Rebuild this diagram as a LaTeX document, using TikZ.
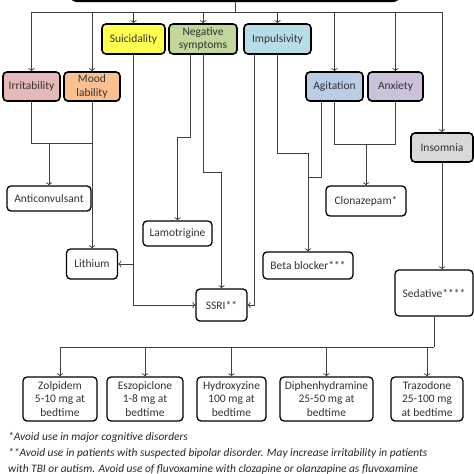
\documentclass[tikz,border=0pt]{standalone}
\usepackage{fontspec}
\setmainfont{Carlito}
\usepackage{tikz}
\usetikzlibrary{arrows.meta}
\usepackage{xcolor}
\definecolor{suicol}{HTML}{FFFF4F}
\definecolor{negcol}{HTML}{C3D69B}
\definecolor{impcol}{HTML}{B7DEE8}
\definecolor{irrcol}{HTML}{E6B9B8}
\definecolor{moodcol}{HTML}{FAC090}
\definecolor{agicol}{HTML}{B9CDE5}
\definecolor{anxcol}{HTML}{CCC1DA}
\definecolor{inscol}{HTML}{D9D9D9}
\tikzstyle{symbox} = [draw=black, line width=1.6pt, rectangle, rounded corners=4pt,
    inner sep=1pt, align=center, text=black!80, font=\fontsize{11.5}{13.3}\selectfont]
\tikzstyle{drugbox} = [draw=black, fill=white, line width=1.3pt, rectangle, rounded corners=4pt,
    inner sep=1pt, align=center, text=black!80, font=\fontsize{11.5}{13.3}\selectfont]
\tikzstyle{link} = [draw=black!75, line width=0.8pt, >={To[length=3pt,width=6.5pt]}]

\begin{document}
\begin{tikzpicture}[x=1pt,y=-1pt]
\useasboundingbox (0,0) rectangle (474,474);
\clip (0,0) rectangle (474,474);
\node[symbox, fill=white, line width=2pt, minimum width=326pt, minimum height=40pt] (top) at (235,-19) {};
\node[symbox, fill=suicol, minimum width=63pt, minimum height=30pt] (sui) at (133.5,39) {Suicidality};
\node[symbox, fill=negcol, minimum width=68pt, minimum height=30pt] (neg) at (203,39) {Negative\\symptoms};
\node[symbox, fill=impcol, minimum width=67pt, minimum height=30pt] (imp) at (277.5,39) {Impulsivity};
\node[symbox, fill=irrcol, minimum width=57pt, minimum height=29pt] (irr) at (31.5,86.5) {Irritability};
\node[symbox, fill=moodcol, minimum width=56pt, minimum height=29pt] (mood) at (92,86.5) {Mood\\lability};
\node[symbox, fill=agicol, minimum width=57pt, minimum height=29pt] (agi) at (334.5,86.5) {Agitation};
\node[symbox, fill=anxcol, minimum width=55pt, minimum height=29pt] (anx) at (395.5,86.5) {Anxiety};
\node[symbox, fill=inscol, minimum width=62pt, minimum height=29pt] (ins) at (442,147.5) {Insomnia};

\node[drugbox, minimum width=84pt, minimum height=25pt] (anti) at (49,198.5) {Anticonvulsant};
\node[drugbox, minimum width=69pt, minimum height=25pt] (lamo) at (177.5,233.5) {Lamotrigine};
\node[drugbox, minimum width=51pt, minimum height=30pt] (lith) at (92,264) {Lithium};
\node[drugbox, minimum width=51pt, minimum height=32pt] (ssri) at (221.5,305) {SSRI**};
\node[drugbox, minimum width=80pt, minimum height=30pt] (clon) at (366,201) {Clonazepam*};
\node[drugbox, minimum width=90pt, minimum height=27pt] (beta) at (308,265.5) {Beta blocker***};
\node[drugbox, minimum width=78pt, minimum height=46pt] (sed) at (434,293) {Sedative****};

\node[drugbox, minimum width=74pt, minimum height=44pt] (zol) at (60,399) {Zolpidem\\5-10 mg at\\bedtime};
\node[drugbox, minimum width=76pt, minimum height=44pt] (esz) at (145,399) {Eszopiclone\\1-8 mg at\\bedtime};
\node[drugbox, minimum width=69pt, minimum height=44pt] (hyd) at (231.5,399) {Hydroxyzine\\100 mg at\\bedtime};
\node[drugbox, minimum width=93pt, minimum height=44pt] (dip) at (326.5,399) {Diphenhydramine\\25-50 mg at\\bedtime};
\node[drugbox, minimum width=72pt, minimum height=44pt] (tra) at (427,399) {Trazodone\\25-100 mg\\at bedtime};

\coordinate (bus) at (235,12);
\coordinate (bus2) at (0,347);
\draw[link] (top.south) -- (bus);
\draw[link] (irr.north |- bus) -- (ins.north |- bus);
\foreach \n in {irr,mood,sui,neg,imp,agi,anx,ins}
    \draw[link,->] (\n.north |- bus) -- (\n.north);

\draw[link] (irr.south) |- (mood.south |- 0,143);
\draw[link,->] (mood.south) -- (lith.north);
\draw[link,->] (anti.north |- 0,143) -- (anti.north);
\draw[link,->] (sui.south) |- (ssri.west);
\draw[link,->] (sui.south |- lith.east) -- (lith.east);
\draw[link,->] ([xshift=-13pt]neg.south) |- (lamo.north |- 0,137) -- (lamo.north);
\draw[link,->] (neg.south) |- (ssri.north |- 0,172) -- (ssri.north);
\draw[link,->] ([xshift=-23pt]imp.south) |- (ssri.east);
\draw[link,->] (imp.south) |- (beta.north |- 0,153) -- (beta.north);
\draw[link] ([xshift=-13pt]agi.south) |- (beta.north |- 0,177);
\draw[link] (agi.south) |- (anx.south |- 0,144) -- (anx.south);
\draw[link,->] (clon.north |- 0,144) -- (clon.north);
\draw[link,->] (ins.south) -- (ins.south |- sed.north);

\draw[link] (sed.south) -- (sed.south |- bus2);
\draw[link] (zol.north |- bus2) -- (sed.south |- bus2);
\foreach \n in {zol,esz,hyd,dip,tra}
    \draw[link,->] (\n.north |- bus2) -- (\n.north);

\node[anchor=north west, align=left, inner sep=0pt, text=black!85,
    font=\itshape\fontsize{11.4}{16}\selectfont] (notes) at (8,432) {*Avoid use in major cognitive disorders\\
    **Avoid use in patients with suspected bipolar disorder. May increase irritability in patients\\
    with TBI or autism. Avoid use of fluvoxamine with clozapine or olanzapine as fluvoxamine};
\end{tikzpicture}
\end{document}
